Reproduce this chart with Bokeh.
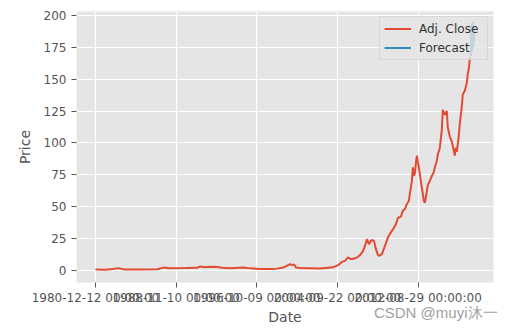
from bokeh.plotting import figure
from bokeh.models import Range1d, FixedTicker, Legend, LegendItem, Title, ColumnDataSource
from bokeh.embed import file_html
from bokeh.resources import INLINE

# Trading-day index and adjusted close
day_index = [0, 248, 421, 569, 693, 1114, 1535, 1683, 1856, 2228, 2525, 2599, 2723, 2846,
             3020, 3143, 3341, 3663, 3836, 4084, 4331, 4505, 4653, 4752, 4826, 4876, 4925,
             4975, 5074, 5321, 5569, 5767, 5891, 6014, 6113, 6188, 6262, 6311, 6361, 6435,
             6509, 6559, 6633, 6683, 6732, 6782, 6831, 6856, 6905, 6955, 7004, 7029, 7103,
             7178, 7252, 7301, 7376, 7450, 7499, 7574, 7623, 7673, 7722, 7772, 7796, 7846,
             7871, 7895, 7920, 7945, 7970, 7994, 8019, 8069, 8093, 8143, 8168, 8192, 8242,
             8291, 8341, 8390, 8415, 8465, 8490, 8539, 8588, 8613, 8663, 8712, 8737, 8786,
             8836, 8885, 8910, 8935, 8960, 9009, 9034, 9083, 9108, 9158, 9207, 9232, 9257,
             9281, 9306]
adj_close = [0.5, 0.4, 0.9, 1.6, 0.6, 0.5, 0.7, 2.0, 1.5, 1.6, 1.8, 2.9, 2.2, 2.6,
             2.4, 1.8, 1.5, 2.0, 1.4, 1.0, 0.9, 1.2, 2.0, 3.6, 4.7, 3.9, 4.5,
             2.0, 1.6, 1.5, 1.3, 1.9, 2.2, 3.9, 6.5, 7.3, 10.0, 9.0, 8.7, 9.3,
             10.5, 11.8, 15.0, 19.0, 24.4, 20.4, 23.0, 23.8, 23.0, 16.5, 12.0, 11.2, 12.6,
             19.0, 25.6, 28.5, 32.0, 36.0, 41.0, 42.0, 46.6, 48.0, 52.0, 54.5, 60.0, 70.0,
             80.7, 74.0, 76.0, 84.0, 90.0, 85.0, 80.7, 70.0, 65.0, 54.5, 53.0, 57.0, 67.0,
             70.0, 74.0, 77.0, 80.7, 86.0, 91.0, 96.0, 110.0, 126.0, 122.0, 125.0, 112.0, 105.0,
             101.0, 94.0, 90.0, 96.0, 93.0, 105.0, 115.0, 128.0, 138.0, 141.0, 147.0, 154.0, 158.0,
             166.0, 167.0]

forecast_index = [9307, 9312, 9317, 9322, 9327, 9332, 9337, 9342, 9347, 9352, 9357, 9362,
                  9367, 9372, 9377, 9382, 9387, 9392, 9397]
forecast = [168, 185, 176, 192, 180, 194, 172, 188, 178, 190, 183, 195, 175, 187,
            181, 191, 179, 186, 184]

tick_positions = [0, 2000, 4000, 6000, 8000]
tick_labels = ["1980-12-12 00:00:00", "1988-11-10 00:00:00", "1996-10-09 00:00:00",
               "2004-09-22 00:00:00", "2012-08-29 00:00:00"]
y_ticks = [0, 25, 50, 75, 100, 125, 150, 175, 200]

FONT = "DejaVu Sans"
GREY = "#555555"

p = figure(frame_width=417, frame_height=271, output_backend="svg", toolbar_location=None,
           x_range=Range1d(-470, 9870), y_range=Range1d(-9.7, 203.2),
           min_border_left=76, min_border_right=17, min_border_top=11, min_border_bottom=47)
p.background_fill_color = "#E5E5E5"
p.border_fill_color = "white"
p.outline_line_color = None

for ax in (p.xaxis[0], p.yaxis[0]):
    ax.axis_line_color = None
    ax.major_tick_line_color = GREY
    ax.major_tick_out = 5
    ax.major_tick_in = 0
    ax.minor_tick_line_color = None
    ax.major_label_text_color = GREY
    ax.major_label_text_font = FONT
    ax.major_label_text_font_size = "12px"
    ax.axis_label_text_color = GREY
    ax.axis_label_text_font = FONT
    ax.axis_label_text_font_size = "14px"
    ax.axis_label_text_font_style = "normal"

p.xaxis.ticker = FixedTicker(ticks=tick_positions)
p.xaxis.major_label_overrides = {t: l for t, l in zip(tick_positions, tick_labels)}
p.xaxis.axis_label = "Date"
p.xaxis.major_label_standoff = 3
p.xaxis.axis_label_standoff = 1
p.yaxis.ticker = FixedTicker(ticks=y_ticks)
p.yaxis.axis_label = "Price"
p.yaxis.major_label_standoff = 5
p.yaxis.axis_label_standoff = 8

p.grid.grid_line_color = "white"
p.grid.grid_line_width = 1.2

src_a = ColumnDataSource(dict(x=day_index, y=adj_close))
src_f = ColumnDataSource(dict(x=forecast_index, y=forecast))
r1 = p.line("x", "y", source=src_a, line_color="#E24A33", line_width=2)
r2 = p.line("x", "y", source=src_f, line_color="#348ABD", line_width=2)

legend = Legend(items=[LegendItem(label="Adj. Close", renderers=[r1]),
                       LegendItem(label="Forecast", renderers=[r2])],
                location="top_right", margin=5, padding=4, spacing=4,
                glyph_width=27, glyph_height=15, label_height=15, label_width=64,
                label_standoff=8, label_text_font=FONT, label_text_font_size="12px",
                label_text_color="#333333",
                background_fill_color="#E5E5E5", background_fill_alpha=0.8,
                border_line_color="#cccccc", border_line_width=1)
p.add_layout(legend, "center")

wm = Title(text="CSDN @muyi沐一", align="right", vertical_align="top",
           standoff=-48, offset=-4,
           text_font="Liberation Sans", text_font_size="15px", text_color="#a0a0a0",
           text_font_style="normal")
p.add_layout(wm, "below")

open("out.html", "w").write(file_html(p, INLINE))
